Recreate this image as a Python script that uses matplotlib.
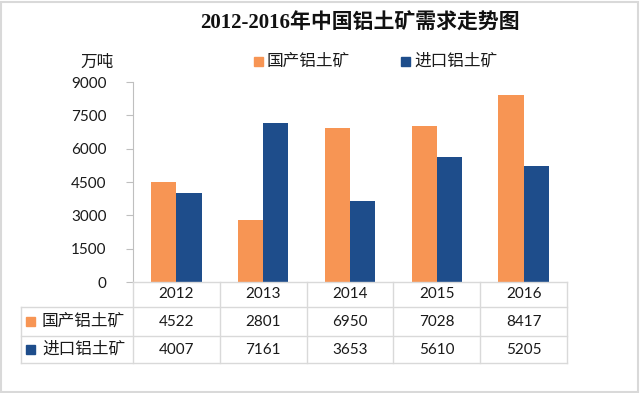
import matplotlib.pyplot as plt
from matplotlib.patches import Rectangle
from matplotlib.lines import Line2D
from matplotlib.transforms import blended_transform_factory
import numpy as np

plt.rcParams['font.family'] = ['Lato', 'Noto Sans CJK SC', 'DejaVu Sans']

years = ['2012', '2013', '2014', '2015', '2016']
domestic = [4522, 2801, 6950, 7028, 8417]
imported = [4007, 7161, 3653, 5610, 5205]
series_names = ['国产铝土矿', '进口铝土矿']
colors = ['#F79554', '#1E4D8B']
yticks = [0, 1500, 3000, 4500, 6000, 7500, 9000]

W, H = 640, 393
fig = plt.figure(figsize=(6.4, 3.93), dpi=100)
ax = fig.add_axes([133 / W, 1 - 282 / H, (567 - 133) / W, 200 / H])

x = np.arange(len(years))
bw = 0.29
ax.bar(x - bw / 2, domestic, bw, color=colors[0], zorder=2)
ax.bar(x + bw / 2, imported, bw, color=colors[1], zorder=2)

ax.set_xlim(-0.5, len(years) - 0.5)
ax.set_ylim(0, 9000)
ax.set_yticks(yticks)
ax.set_yticklabels([str(t) for t in yticks], fontsize=11, color='#1a1a1a')
ax.set_xticks([])
for s in ['top', 'right', 'bottom']:
    ax.spines[s].set_visible(False)
ax.spines['left'].set_color('#BFBFBF')
ax.tick_params(axis='y', length=5, color='#BFBFBF', pad=14)

# data table below the axes
grid = '#D9D9D9'
tr = blended_transform_factory(ax.transData, fig.transFigure)
row_y = [282, 307, 336, 363]  # pixel boundaries
fy = [1 - v / H for v in row_y]
left = -0.5
xr = len(years) - 0.5
lab_left = -0.5 - (133 - 21) / 87.0

# horizontal lines
fig.add_artist(Line2D([left, xr], [fy[0], fy[0]], transform=tr, color=grid, lw=1))
for yy in fy[1:]:
    fig.add_artist(Line2D([lab_left, xr], [yy, yy], transform=tr, color=grid, lw=1))
# vertical lines
for i in range(len(years) + 1):
    fig.add_artist(Line2D([i - 0.5, i - 0.5], [fy[0], fy[3]], transform=tr, color=grid, lw=1))
fig.add_artist(Line2D([lab_left, lab_left], [fy[1], fy[3]], transform=tr, color=grid, lw=1))

for i, yr in enumerate(years):
    fig.text(i, (fy[0] + fy[1]) / 2, yr, transform=tr, ha='center', va='center',
             fontsize=11, color='#1a1a1a')
for r, vals in enumerate([domestic, imported]):
    yc = (fy[r + 1] + fy[r + 2]) / 2
    for i, v in enumerate(vals):
        fig.text(i, yc, str(v), transform=tr, ha='center', va='center',
                 fontsize=11, color='#1a1a1a')
    fig.add_artist(Rectangle((26 / W, yc - 4.5 / H), 9 / W, 9 / H,
                             transform=fig.transFigure, color=colors[r]))
    fig.text(42 / W, yc, series_names[r], ha='left', va='center', fontsize=12,
             family=['Noto Sans CJK SC'], color='#1a1a1a')

# legend
for r, lx in enumerate([254, 401]):
    fig.add_artist(Rectangle((lx / W, 1 - 66 / H), 9 / W, 9 / H,
                             transform=fig.transFigure, color=colors[r]))
    fig.text((lx + 13) / W, 1 - 61 / H, series_names[r], ha='left', va='center',
             fontsize=12, family=['Noto Sans CJK SC'], color='#1a1a1a')

fig.text(97 / W, 1 - 62 / H, '万吨', ha='center', va='center', fontsize=12,
         family=['Noto Sans CJK SC'], color='#1a1a1a')
fig.text(360 / W, 1 - 24 / H, '2012-2016年中国铝土矿需求走势图', ha='center', va='center',
         fontsize=15, fontweight='bold', family=['Liberation Serif', 'Noto Sans CJK SC'],
         color='#111111')

# outer border
fig.add_artist(Rectangle((1 / W, 1 / H), (W - 3) / W, (H - 3) / H, transform=fig.transFigure,
                         fill=False, edgecolor='#D9D9D9', lw=1.5))

fig.savefig('out.png', dpi=100)
